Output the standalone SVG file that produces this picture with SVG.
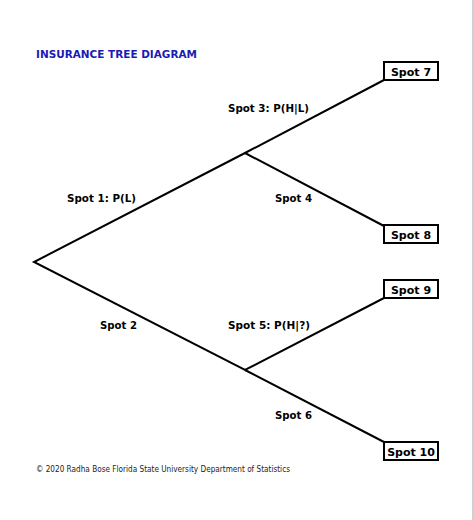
<svg xmlns="http://www.w3.org/2000/svg" width="474" height="520" viewBox="0 0 474 520">
<style>
.lbl{font-family:"DejaVu Sans",Verdana,sans-serif;font-weight:bold;font-size:11px;fill:#000}
.box{fill:#fff;stroke:#000;stroke-width:2}
.edge{stroke:#000;stroke-width:2;fill:none}
</style>
<rect x="0" y="0" width="474" height="520" fill="#fff"/>
<rect x="472" y="0" width="2" height="520" fill="#d0d0d0"/>
<text x="36" y="58" class="lbl" style="fill:#1a1ab4" textLength="161" lengthAdjust="spacingAndGlyphs">INSURANCE TREE DIAGRAM</text>
<g id="connectors">
<polyline class="edge" points="384,80 245,153 34,262 245,370 384,298"/>
<line class="edge" x1="245" y1="153" x2="384" y2="226"/>
<line class="edge" x1="245" y1="370" x2="384" y2="442"/>
</g>
<g id="edge-labels">
<text x="228" y="112" class="lbl" textLength="81" lengthAdjust="spacingAndGlyphs">Spot 3: P(H|L)</text>
<text x="67" y="202" class="lbl" textLength="69" lengthAdjust="spacingAndGlyphs">Spot 1: P(L)</text>
<text x="275" y="202" class="lbl" textLength="37" lengthAdjust="spacingAndGlyphs">Spot 4</text>
<text x="100" y="329" class="lbl" textLength="37" lengthAdjust="spacingAndGlyphs">Spot 2</text>
<text x="228" y="329" class="lbl" textLength="82" lengthAdjust="spacingAndGlyphs">Spot 5: P(H|?)</text>
<text x="275" y="419" class="lbl" textLength="37" lengthAdjust="spacingAndGlyphs">Spot 6</text>
</g>
<g id="spot7"><rect class="box" x="384" y="62" width="54" height="18"/><text x="411" y="75.5" class="lbl" text-anchor="middle">Spot 7</text></g>
<g id="spot8"><rect class="box" x="384" y="225" width="54" height="18"/><text x="411" y="238.5" class="lbl" text-anchor="middle">Spot 8</text></g>
<g id="spot9"><rect class="box" x="384" y="280" width="54" height="18"/><text x="411" y="293.5" class="lbl" text-anchor="middle">Spot 9</text></g>
<g id="spot10"><rect class="box" x="384" y="442" width="54" height="18"/><text x="411" y="455.5" class="lbl" text-anchor="middle">Spot 10</text></g>
<text x="36" y="472" style="font-family:'DejaVu Sans',Verdana,sans-serif;font-size:9px;fill:#222" textLength="254" lengthAdjust="spacingAndGlyphs">© 2020 Radha Bose Florida State University Department of Statistics</text>
</svg>
